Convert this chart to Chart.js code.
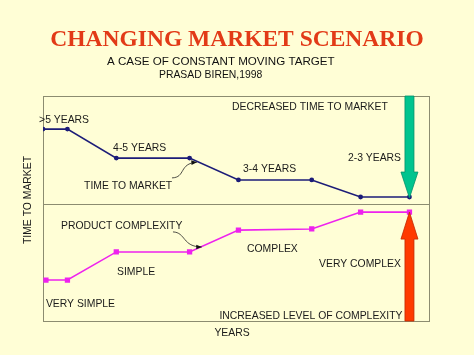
<!DOCTYPE html>
<html><head><meta charset="utf-8">
<script src="https://cdn.jsdelivr.net/npm/chart.js@4"></script>
<style>
html,body{margin:0;padding:0;background:#fffed6;}
#wrap{width:474px;height:355px;position:relative;}
</style></head>
<body><div id="wrap"><canvas id="c" width="474" height="355"></canvas></div>
<script>
// ---- data ----
const years = [0, 1, 3, 6, 8, 11, 13, 15];
const timeToMarket = [85.3, 85.3, 72.4, 72.4, 62.7, 62.7, 55.1, 55.1];
const complexityYears = [0.12, 1, 3, 6, 8, 11, 13, 15];
const productComplexity = [18.2, 18.2, 30.7, 30.7, 40.4, 40.9, 48.4, 48.4];
const dividerLevel = 52;
const timeLabels = ['>5 YEARS', '4-5 YEARS', '3-4 YEARS', '2-3 YEARS'];
const complexityLabels = ['VERY SIMPLE', 'SIMPLE', 'COMPLEX', 'VERY COMPLEX'];

// annotation placement (data units)
const annotations = [
  {t: timeLabels[0], x: -0.16, y: 89.3},
  {t: timeLabels[1], x: 2.87, y: 76.9},
  {t: timeLabels[2], x: 8.19, y: 67.6},
  {t: timeLabels[3], x: 12.48, y: 72.4},
  {t: 'TIME TO MARKET', x: 1.68, y: 60.0},
  {t: 'DECREASED TIME TO MARKET', x: 7.74, y: 95.1},
  {t: 'PRODUCT COMPLEXITY', x: 0.74, y: 42.2},
  {t: complexityLabels[0], x: 0.12, y: 7.6},
  {t: complexityLabels[1], x: 3.03, y: 21.8},
  {t: complexityLabels[2], x: 8.35, y: 32.0},
  {t: complexityLabels[3], x: 11.3, y: 25.3},
  {t: 'INCREASED LEVEL OF COMPLEXITY', x: 7.22, y: 2.2}
];

const toPts = (xs, ys) => xs.map((x, i) => ({x: x, y: ys[i]}));

const decorPlugin = {
  id: 'decor',
  beforeDatasetsDraw(chart) {
    const ctx = chart.ctx, a = chart.chartArea, xs = chart.scales.x, ys = chart.scales.y;
    ctx.save();
    // frame
    ctx.strokeStyle = '#8c8c70';
    ctx.lineWidth = 1;
    ctx.strokeRect(Math.round(a.left) + 0.5, Math.round(a.top) + 0.5, Math.round(a.right - a.left), Math.round(a.bottom - a.top));
    const dy = Math.round(ys.getPixelForValue(dividerLevel)) + 0.5;
    ctx.beginPath(); ctx.moveTo(a.left, dy); ctx.lineTo(a.right, dy); ctx.stroke();
    ctx.restore();
  },
  afterDatasetsDraw(chart) {
    const ctx = chart.ctx, a = chart.chartArea, xs = chart.scales.x, ys = chart.scales.y;
    const px = v => xs.getPixelForValue(v), py = v => ys.getPixelForValue(v);
    ctx.save();
    // titles
    ctx.textAlign = 'center';
    ctx.textBaseline = 'alphabetic';
    ctx.fillStyle = '#e23a17';
    ctx.font = 'bold 23.5px "Liberation Serif", "Times New Roman", serif';
    ctx.fillText('CHANGING MARKET SCENARIO', 237, 46);
    ctx.fillStyle = '#111';
    ctx.textAlign = 'left';
    ctx.font = '11.6px "Liberation Sans", Arial, sans-serif';
    ctx.fillText('A CASE OF CONSTANT MOVING TARGET', 107, 65);
    ctx.font = '10.4px "Liberation Sans", Arial, sans-serif';
    ctx.fillText('PRASAD BIREN,1998', 159, 77.5);

    // annotation labels
    ctx.font = '10.4px "Liberation Sans", Arial, sans-serif';
    ctx.textBaseline = 'middle';
    ctx.fillStyle = '#1a1a1a';
    annotations.forEach(l => ctx.fillText(l.t, px(l.x), py(l.y)));

    // axis titles
    ctx.textAlign = 'center';
    ctx.fillText('YEARS', (a.left + a.right) / 2 - 4, 333);
    ctx.save();
    ctx.translate(28.5, 200);
    ctx.rotate(-Math.PI / 2);
    ctx.fillText('TIME TO MARKET', 0, 0);
    ctx.restore();

    // block arrows
    const xA = px(15);
    function blockArrow(yBase, yHead, yTip, fill, stroke) {
      ctx.beginPath();
      ctx.moveTo(xA - 4.5, yBase);
      ctx.lineTo(xA + 4.5, yBase);
      ctx.lineTo(xA + 4.5, yHead);
      ctx.lineTo(xA + 8.5, yHead);
      ctx.lineTo(xA, yTip);
      ctx.lineTo(xA - 8.5, yHead);
      ctx.lineTo(xA - 4.5, yHead);
      ctx.closePath();
      ctx.fillStyle = fill; ctx.fill();
      ctx.strokeStyle = stroke; ctx.lineWidth = 0.8; ctx.stroke();
    }
    blockArrow(py(100), py(66.2), py(54.7), '#00c48e', '#00906a');
    blockArrow(py(0), py(36.4), py(48.4), '#ff3a00', '#c02800');

    // curved pointer arrows
    function curve(p0, c1, c2, p1) {
      ctx.beginPath();
      ctx.moveTo(px(p0[0]), py(p0[1]));
      ctx.bezierCurveTo(px(c1[0]), py(c1[1]), px(c2[0]), py(c2[1]), px(p1[0]), py(p1[1]));
      ctx.strokeStyle = '#222'; ctx.lineWidth = 0.8; ctx.stroke();
      const ex = px(p1[0]), ey = py(p1[1]);
      const ang = Math.atan2(ey - py(c2[1]), ex - px(c2[0]));
      ctx.beginPath();
      ctx.moveTo(ex, ey);
      ctx.lineTo(ex - 6 * Math.cos(ang - 0.4), ey - 6 * Math.sin(ang - 0.4));
      ctx.lineTo(ex - 6 * Math.cos(ang + 0.4), ey - 6 * Math.sin(ang + 0.4));
      ctx.closePath();
      ctx.fillStyle = '#111'; ctx.fill();
    }
    curve([5.28, 63.6], [5.85, 63.8], [5.55, 70.0], [6.3, 70.6]);
    curve([5.32, 39.6], [5.85, 39.4], [5.7, 32.9], [6.5, 32.9]);
    ctx.restore();
  }
};

new Chart(document.getElementById('c'), {
  type: 'scatter',
  data: {
    datasets: [
      {
        label: 'Time to market',
        data: toPts(years, timeToMarket),
        showLine: true,
        borderColor: '#1c1c78',
        backgroundColor: '#1c1c78',
        borderWidth: 1.6,
        pointRadius: 1.6,
        pointStyle: 'circle'
      },
      {
        label: 'Product complexity',
        data: toPts(complexityYears, productComplexity),
        showLine: true,
        borderColor: '#ee22ee',
        backgroundColor: '#ee22ee',
        borderWidth: 1.6,
        pointRadius: 2.6,
        pointStyle: 'rect'
      }
    ]
  },
  options: {
    responsive: false,
    animation: false,
    layout: {padding: {left: 43, top: 96, right: 45, bottom: 34}},
    scales: {
      x: {type: 'linear', display: false, min: 0, max: 15.8},
      y: {type: 'linear', display: false, min: 0, max: 100}
    },
    plugins: {legend: {display: false}, tooltip: {enabled: false}, title: {display: false}}
  },
  plugins: [decorPlugin]
});
</script>
</body></html>
